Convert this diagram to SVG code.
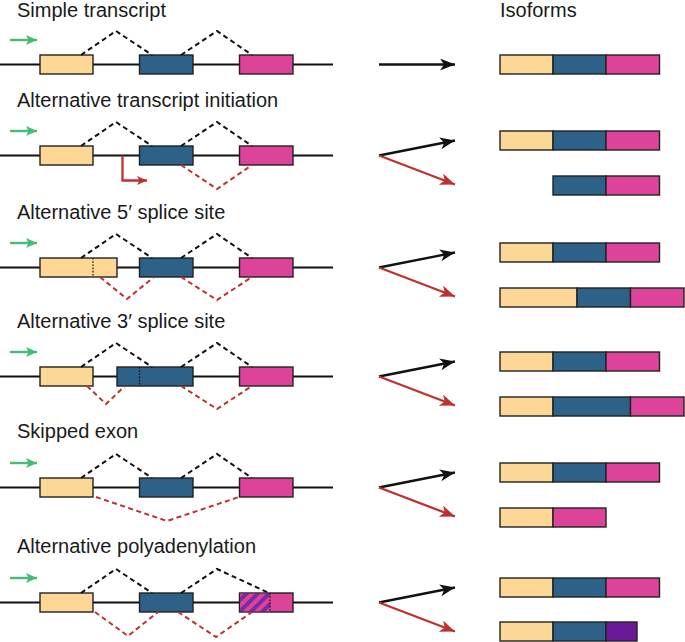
<svg xmlns="http://www.w3.org/2000/svg" width="685" height="642" viewBox="0 0 685 642">
<style>
text{font-family:"Liberation Sans",Arial,sans-serif;font-size:20px;fill:#1a1a1a}
.gene{stroke:#111;stroke-width:2;fill:none}
.ex{stroke:#222;stroke-width:1.4}
.y{fill:#fdd795}.b{fill:#2e6187}.p{fill:#dd4499}.v{fill:#6a1a96}
.dot{stroke:#111;stroke-width:1.2;stroke-dasharray:1.6 1.6;fill:none}
.sb{stroke:#111;stroke-width:2;stroke-dasharray:5 3.5;fill:none}
.sr{stroke:#c0302e;stroke-width:2;stroke-dasharray:5 3.5;fill:none}
.ab{stroke:#111;stroke-width:2.3;fill:none}
.ar{stroke:#c0302e;stroke-width:2.3;fill:none}
.ag{stroke:#45bd76;stroke-width:2.4;fill:none}
</style>
<defs>
<marker id="hb" markerUnits="userSpaceOnUse" markerWidth="18" markerHeight="14" refX="15" refY="6" orient="auto" viewBox="0 0 18 14"><path d="M0,0 L15,6 L0,12 L4,6 z" fill="#111"/></marker>
<marker id="hr" markerUnits="userSpaceOnUse" markerWidth="18" markerHeight="14" refX="15" refY="6" orient="auto" viewBox="0 0 18 14"><path d="M0,0 L15,6 L0,12 L4,6 z" fill="#c0302e"/></marker>
<marker id="hrs" markerUnits="userSpaceOnUse" markerWidth="12" markerHeight="10" refX="10" refY="4.5" orient="auto" viewBox="0 0 12 10"><path d="M0,0 L10,4.5 L0,9 L2.5,4.5 z" fill="#c0302e"/></marker>
<marker id="hg" markerUnits="userSpaceOnUse" markerWidth="13" markerHeight="11" refX="11" refY="5" orient="auto" viewBox="0 0 13 11"><path d="M0,0 L11,5 L0,10 L2.5,5 z" fill="#45bd76"/></marker>
<pattern id="hatch" patternUnits="userSpaceOnUse" width="8" height="8" patternTransform="rotate(45)"><rect width="8" height="8" fill="#dd4499"/><rect width="4" height="8" fill="#7b2aa6"/></pattern>
</defs>

<g id="labels">
<text x="17" y="17">Simple transcript</text>
<text x="500" y="17">Isoforms</text>
<text x="17" y="107">Alternative transcript initiation</text>
<text x="17" y="219">Alternative 5′ splice site</text>
<text x="17" y="328">Alternative 3′ splice site</text>
<text x="17" y="438">Skipped exon</text>
<text x="17" y="553">Alternative polyadenylation</text>
</g>

<g id="gene-simple">
<line class="gene" x1="0" y1="64.5" x2="333" y2="64.5"/>
<line class="ag" x1="10" y1="40" x2="37" y2="40" marker-end="url(#hg)"/>
<rect class="ex y" x="40" y="55" width="53" height="19"/>
<rect class="ex b" x="139.5" y="55" width="53.5" height="19"/>
<rect class="ex p" x="239.5" y="55" width="53.5" height="19"/>
</g>

<g id="gene-initiation">
<line class="gene" x1="0" y1="155.5" x2="333" y2="155.5"/>
<line class="ag" x1="10" y1="131" x2="37" y2="131" marker-end="url(#hg)"/>
<rect class="ex y" x="40" y="146" width="53" height="19"/>
<rect class="ex b" x="139.5" y="146" width="53.5" height="19"/>
<rect class="ex p" x="239.5" y="146" width="53.5" height="19"/>
<path class="ar" d="M122.5,155.5 V180.5 H147" marker-end="url(#hrs)"/>
</g>

<g id="gene-5prime">
<line class="gene" x1="0" y1="267.5" x2="333" y2="267.5"/>
<line class="ag" x1="10" y1="243" x2="37" y2="243" marker-end="url(#hg)"/>
<rect class="ex y" x="40" y="258" width="77" height="19"/>
<line class="dot" x1="93" y1="258" x2="93" y2="277"/>
<rect class="ex b" x="139.5" y="258" width="53.5" height="19"/>
<rect class="ex p" x="239.5" y="258" width="53.5" height="19"/>
</g>

<g id="gene-3prime">
<line class="gene" x1="0" y1="376.5" x2="333" y2="376.5"/>
<line class="ag" x1="10" y1="352" x2="37" y2="352" marker-end="url(#hg)"/>
<rect class="ex y" x="40" y="367" width="53" height="19"/>
<rect class="ex b" x="117" y="367" width="76" height="19"/>
<line class="dot" x1="139.5" y1="367" x2="139.5" y2="386"/>
<rect class="ex p" x="239.5" y="367" width="53.5" height="19"/>
</g>

<g id="gene-skipped">
<line class="gene" x1="0" y1="487.5" x2="333" y2="487.5"/>
<line class="ag" x1="10" y1="463" x2="37" y2="463" marker-end="url(#hg)"/>
<rect class="ex y" x="40" y="478" width="53" height="19"/>
<rect class="ex b" x="139.5" y="478" width="53.5" height="19"/>
<rect class="ex p" x="239.5" y="478" width="53.5" height="19"/>
</g>

<g id="gene-polya">
<line class="gene" x1="0" y1="602.5" x2="333" y2="602.5"/>
<line class="ag" x1="10" y1="578" x2="37" y2="578" marker-end="url(#hg)"/>
<rect class="ex y" x="40" y="593" width="53" height="19"/>
<rect class="ex b" x="139.5" y="593" width="53.5" height="19"/>
<rect class="ex p" x="239.5" y="593" width="53.5" height="19"/>
<rect x="240.2" y="593.7" width="29.8" height="17.6" fill="url(#hatch)"/>
<line class="dot" x1="270" y1="593" x2="270" y2="612"/>
</g>

<g id="isoforms">
<g id="iso-simple">
<rect class="ex y" x="500" y="55" width="53" height="19"/><rect class="ex b" x="553" y="55" width="53" height="19"/><rect class="ex p" x="606" y="55" width="53.5" height="19"/>
</g>
<g id="iso-initiation">
<rect class="ex y" x="500" y="131" width="53" height="19"/><rect class="ex b" x="553" y="131" width="53" height="19"/><rect class="ex p" x="606" y="131" width="53.5" height="19"/>
<rect class="ex b" x="553" y="176" width="53" height="19"/><rect class="ex p" x="606" y="176" width="53.5" height="19"/>
</g>
<g id="iso-5prime">
<rect class="ex y" x="500" y="243" width="53" height="19"/><rect class="ex b" x="553" y="243" width="53" height="19"/><rect class="ex p" x="606" y="243" width="53.5" height="19"/>
<rect class="ex y" x="500" y="288" width="77" height="19"/><rect class="ex b" x="577" y="288" width="53.5" height="19"/><rect class="ex p" x="630.5" y="288" width="53.5" height="19"/>
</g>
<g id="iso-3prime">
<rect class="ex y" x="500" y="352" width="53" height="19"/><rect class="ex b" x="553" y="352" width="53" height="19"/><rect class="ex p" x="606" y="352" width="53.5" height="19"/>
<rect class="ex y" x="500" y="397" width="53" height="19"/><rect class="ex b" x="553" y="397" width="77.5" height="19"/><rect class="ex p" x="630.5" y="397" width="53.5" height="19"/>
</g>
<g id="iso-skipped">
<rect class="ex y" x="500" y="463" width="53" height="19"/><rect class="ex b" x="553" y="463" width="53" height="19"/><rect class="ex p" x="606" y="463" width="53.5" height="19"/>
<rect class="ex y" x="500" y="508" width="53" height="19"/><rect class="ex p" x="553" y="508" width="53" height="19"/>
</g>
<g id="iso-polya">
<rect class="ex y" x="500" y="578" width="53" height="19"/><rect class="ex b" x="553" y="578" width="53" height="19"/><rect class="ex p" x="606" y="578" width="53.5" height="19"/>
<rect class="ex y" x="500" y="622" width="53" height="19"/><rect class="ex b" x="553" y="622" width="53" height="19"/><rect class="ex v" x="606" y="622" width="31" height="19"/>
</g>
</g>

<g id="connectors">
<polyline class="sb" points="81,55 116,31 152,55"/>
<polyline class="sb" points="181,55 217,31 252,55"/>

<polyline class="sb" points="81,146 116,122 152,146"/>
<polyline class="sb" points="181,146 217,122 252,146"/>
<polyline class="sr" points="181,165 217,189 252,165"/>

<polyline class="sb" points="81,258 116,234 152,258"/>
<polyline class="sb" points="181,258 217,234 252,258"/>
<polyline class="sr" points="100,277 127,299 154,277"/>
<polyline class="sr" points="181,277 217,300 252,277"/>

<polyline class="sb" points="81,367 116,343 152,367"/>
<polyline class="sb" points="181,367 217,343 252,367"/>
<polyline class="sr" points="87,386 106,404 125,386"/>
<polyline class="sr" points="181,386 217,409 252,386"/>

<polyline class="sb" points="81,478 116,454 152,478"/>
<polyline class="sb" points="181,478 217,454 252,478"/>
<polyline class="sr" points="96,497 167,521 239,497"/>

<polyline class="sb" points="81,593 116,569 152,593"/>
<polyline class="sb" points="181,593 217,569 269,593"/>
<polyline class="sr" points="95,612 128,636 158,612"/>
<polyline class="sr" points="178,612 216,637 252,612"/>

<line class="ab" x1="379" y1="64.5" x2="455" y2="64.5" marker-end="url(#hb)"/>

<line class="ab" x1="379" y1="155.5" x2="455" y2="140.5" marker-end="url(#hb)"/>
<line class="ar" x1="379" y1="155.5" x2="455" y2="184.5" marker-end="url(#hr)"/>

<line class="ab" x1="379" y1="267.5" x2="455" y2="252.5" marker-end="url(#hb)"/>
<line class="ar" x1="379" y1="267.5" x2="455" y2="296.5" marker-end="url(#hr)"/>

<line class="ab" x1="379" y1="376.5" x2="455" y2="361.5" marker-end="url(#hb)"/>
<line class="ar" x1="379" y1="376.5" x2="455" y2="405.5" marker-end="url(#hr)"/>

<line class="ab" x1="379" y1="487.5" x2="455" y2="472.5" marker-end="url(#hb)"/>
<line class="ar" x1="379" y1="487.5" x2="455" y2="516.5" marker-end="url(#hr)"/>

<line class="ab" x1="379" y1="602.5" x2="455" y2="587.5" marker-end="url(#hb)"/>
<line class="ar" x1="379" y1="602.5" x2="455" y2="631.5" marker-end="url(#hr)"/>
</g>
</svg>
